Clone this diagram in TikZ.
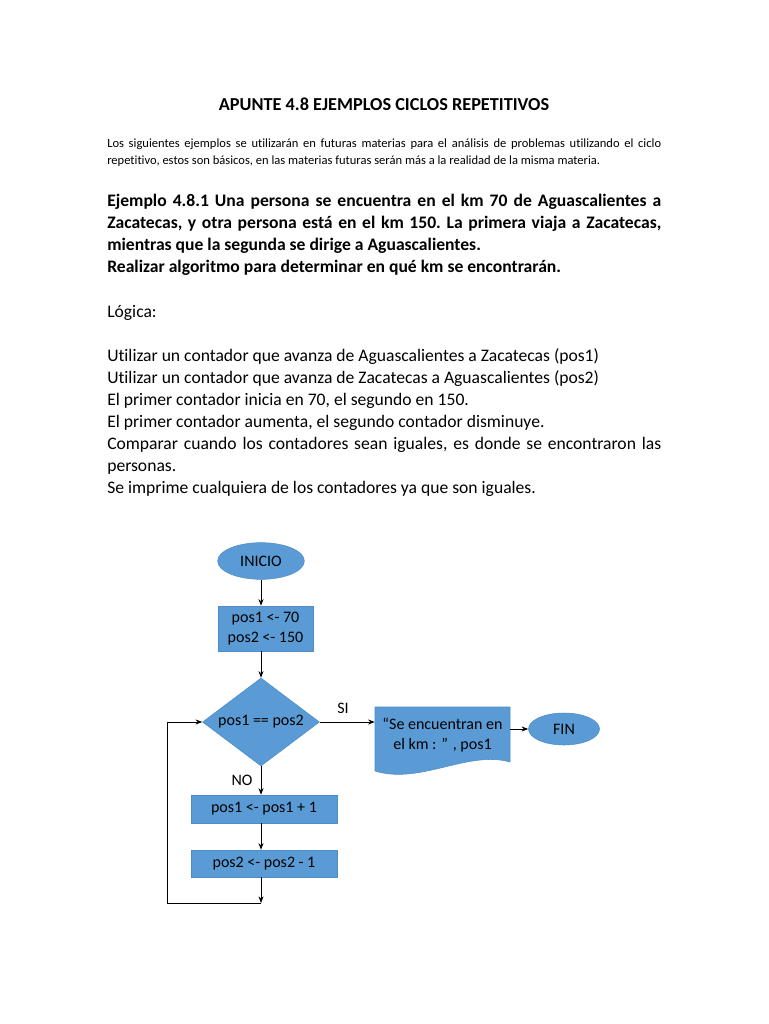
\documentclass[tikz,border=0pt]{standalone}
\usepackage{fontspec}
\setmainfont{Carlito}[Ligatures=NoCommon]
\usetikzlibrary{arrows.meta,shapes.geometric}
\definecolor{fc}{HTML}{5B9BD5}
\definecolor{ec}{HTML}{4F8DC9}
\tikzset{
  txt/.style={anchor=base west, inner sep=0pt, text width=415.5pt, align=justify},
  body/.style={font={\frenchspacing\fontsize{13.2}{16.5}\selectfont}},
  bodyb/.style={font={\frenchspacing\bfseries\fontsize{13.2}{16.5}\selectfont}},
  term/.style={ellipse, fill=fc, draw=ec, inner sep=0pt, font=\fontsize{12}{14}\selectfont},
  proc/.style={rectangle, fill=fc, draw=ec, inner sep=0pt, align=center, font=\fontsize{12}{14.5}\selectfont},
  dec/.style={diamond, fill=fc, draw=ec, inner sep=1pt, aspect=1.33, font=\fontsize{12}{14}\selectfont},
  lbl/.style={inner sep=0pt, font=\fontsize{12}{14}\selectfont},
  arr/.style={-{Stealth[length=5pt,width=3.8pt]}, line width=0.65pt}
}
\begin{document}
\begin{tikzpicture}[x=0.75pt,y=-0.75pt]
\useasboundingbox[fill=white] (0,0) rectangle (768,1024);

\node[anchor=base, inner sep=0pt, font={\bfseries\fontsize{13.7}{16}\selectfont}] (title) at (384,110) {APUNTE 4.8 EJEMPLOS CICLOS REPETITIVOS};

\node[txt, font={\frenchspacing\fontsize{9.4}{12.75}\selectfont}] (intro) at (107,147) {Los siguientes ejemplos se utilizarán en futuras materias para el análisis de problemas utilizando el ciclo\linebreak repetitivo, estos son básicos, en las materias futuras serán más a la realidad de la misma materia.};

\node[txt, bodyb] (enun) at (107,206) {Ejemplo 4.8.1 Una persona se encuentra en el km 70 de Aguascalientes a\linebreak Zacatecas, y otra persona está en el km 150. La primera viaja a Zacatecas,\linebreak mientras que la segunda se dirige a Aguascalientes.\par Realizar algoritmo para determinar en qué km se encontrarán.};

\node[txt, body] (logica) at (107,317) {Lógica:};

\node[txt, body] (pasos) at (107,361) {Utilizar un contador que avanza de Aguascalientes a Zacatecas (pos1)\par Utilizar un contador que avanza de Zacatecas a Aguascalientes (pos2)\par El primer contador inicia en 70, el segundo en 150.\par El primer contador aumenta, el segundo contador disminuye.\par Comparar cuando los contadores sean iguales, es donde se encontraron las\linebreak personas.\par Se imprime cualquiera de los contadores ya que son iguales.};

% flowchart
\node[term, minimum width=65pt, minimum height=27.5pt] (inicio) at (261,561) {INICIO};
\node[proc, minimum width=71.25pt, minimum height=33.75pt] (init) at (265.5,628.5) {pos1 <- 70\\pos2 <- 150};
\node[dec, minimum width=87.75pt, minimum height=66pt] (cond) at (261,722) {pos1 == pos2};

\path[fill=fc, draw=ec] (375,707) -- (510,707) -- (510,762) .. controls (468,750) and (420,785) .. (375,771) -- cycle;
\node[inner sep=0pt, minimum width=101.25pt, minimum height=42pt, align=center, font={\fontsize{12}{14.5}\selectfont}] (out) at (442.5,735) {“Se encuentran en\\el km : ” , pos1};
\node[term, minimum width=53.25pt, minimum height=24pt] (fin) at (564,729) {FIN};

\node[proc, minimum width=109.5pt, minimum height=21pt] (inc) at (264,809) {pos1 <- pos1 + 1};
\node[proc, minimum width=109.5pt, minimum height=20.25pt] (decr) at (264,863.5) {pos2 <- pos2 - 1};

\node[lbl] (si) at (343,708) {SI};
\node[lbl] (no) at (242,780) {NO};

\coordinate (b1) at (261,903);
\coordinate (b2) at (167,903);

\draw[arr] (inicio.south) -- (inicio.south |- init.north);
\draw[arr] (inicio.south |- init.south) -- (cond.north);
\draw[arr] (cond.east) -- (cond.east -| out.west);
\draw[arr] (fin.west -| out.east) -- (fin.west);
\draw[arr] (cond.south) -- (cond.south |- inc.north);
\draw[arr] (cond.south |- inc.south) -- (cond.south |- decr.north);
\draw[arr] (cond.south |- decr.south) -- (b1);
\draw[arr] (b1) -- (b2) -- (b2 |- cond.west) -- (cond.west);
\end{tikzpicture}
\end{document}
